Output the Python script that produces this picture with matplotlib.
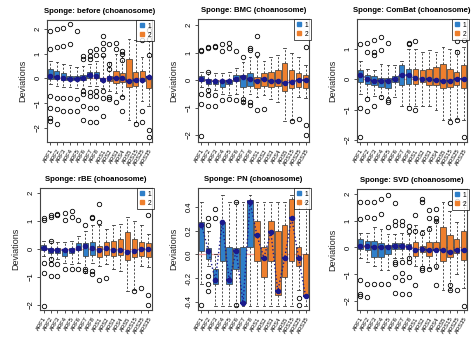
import matplotlib
matplotlib.use("Agg")
import matplotlib.pyplot as plt
from matplotlib.lines import Line2D

plt.rcParams['font.family'] = ['Liberation Sans', 'DejaVu Sans']

# sample names (x axis) and batch of each sample
samples = ['ARF1', 'ARF2', 'ARF3', 'ARF4', 'ARF5', 'ARF6', 'ARF7', 'ARF8',
           'ARS1', 'ARS2', 'ARS3', 'ARS4', 'ARS5', 'ARS15', 'ARS25', 'ARS35']
batch = [1, 1, 1, 1, 1, 1, 1, 1, 2, 2, 2, 2, 2, 2, 2, 2]
batch_colors = {1: '#2f7fc9', 2: '#ee7f2d'}

# ---- before ----
before_med = [0.10, 0.05, 0.00, -0.02, -0.02, 0.02, 0.12, 0.10,
              -0.05, 0.00, 0.03, 0.00, -0.10, -0.08, -0.05, 0.05]
before_q1 = [-0.04, -0.04, -0.05, -0.06, -0.08, -0.05, 0.00, 0.00,
             -0.12, -0.10, -0.20, -0.15, -0.35, -0.30, -0.10, -0.40]
before_q3 = [0.39, 0.30, 0.20, 0.10, 0.10, 0.15, 0.25, 0.25,
             0.03, 0.10, 0.30, 0.20, 0.80, 0.25, 0.30, 0.10]
before_lo = [-0.24, -0.30, -0.35, -0.35, -0.40, -0.40, -0.30, -0.30,
             -0.40, -0.50, -0.60, -0.70, -1.70, -1.75, -0.90, -1.10]
before_hi = [0.70, 0.65, 0.60, 0.55, 0.45, 0.50, 0.60, 0.70,
             0.90, 0.65, 1.00, 1.00, 1.60, 1.55, 0.85, 1.50]
before_out = [[1.90, 1.17, -0.72, -1.19, -1.60, -1.73],
              [2.00, 1.28, -0.78, -1.25, -1.85],
              [2.05, 1.30, -0.80, -1.30],
              [2.20, 1.40, -0.80, -1.30],
              [1.90, -0.85, -1.30],
              [0.90, 0.80, -0.50, -0.65, -1.10, -1.70],
              [1.10, 0.90, 0.80, -0.55, -0.70, -1.20, -1.75],
              [1.20, 0.95, -0.50, -0.70, -1.20, -1.75],
              [1.70, 1.45, 1.20, 0.95, -0.50, -0.80, -1.50],
              [1.40, 0.60, 0.40, -0.75, -0.85],
              [1.45, 1.20, -0.95],
              [1.10, 1.00, 0.75, -0.75, -1.30],
              [],
              [-1.85],
              [1.55, -1.30, -1.75],
              [1.95, 1.60, 0.95, -2.10, -2.35]]

# ---- BMC (rBE gives the same values) ----
bmc_med = [0.05, -0.03, -0.05, -0.05, -0.03, 0.05, 0.12, 0.05,
           -0.03, 0.03, -0.05, -0.02, -0.10, -0.07, 0.00, 0.00]
bmc_q1 = [-0.05, -0.15, -0.15, -0.25, -0.15, -0.05, -0.25, -0.20,
          -0.30, -0.20, -0.25, -0.20, -0.40, -0.30, -0.25, -0.30]
bmc_q3 = [0.15, 0.05, 0.02, 0.00, 0.02, 0.20, 0.20, 0.25,
          0.10, 0.25, 0.30, 0.35, 0.62, 0.35, 0.25, 0.20]
bmc_lo = [-0.25, -0.45, -0.35, -0.50, -0.55, -0.50, -0.85, -0.50,
          -0.60, -0.55, -0.70, -0.80, -1.50, -1.45, -0.60, -0.65]
bmc_hi = [0.30, 0.30, 0.25, 0.25, 0.30, 0.45, 0.65, 0.85,
          0.85, 0.70, 0.85, 0.90, 1.15, 1.00, 0.85, 0.55]
bmc_out = [[1.10, 1.05, -0.50, -0.87, -2.05],
           [1.20, 1.15, 0.28, -0.35, -0.55, -0.95],
           [1.25, 1.20, -0.55, -0.95],
           [1.30, 1.05, -0.72],
           [1.35, 1.15, -0.70],
           [1.05, -0.72],
           [0.85, -0.70, -0.80],
           [1.15, 1.10, -0.80, -0.90],
           [1.60, 0.95, -1.10],
           [-1.05],
           [],
           [],
           [],
           [-1.50],
           [-1.40],
           [1.20, -1.65, -2.00]]

# ---- ComBat ----
combat_med = [0.15, 0.00, -0.05, -0.05, -0.05, 0.02, 0.15, 0.12,
              0.03, 0.02, 0.00, -0.03, -0.05, -0.05, 0.00, 0.02]
combat_q1 = [-0.10, -0.15, -0.20, -0.25, -0.30, -0.10, -0.20, -0.15,
             -0.15, -0.10, -0.20, -0.20, -0.30, -0.25, -0.20, -0.30]
combat_q3 = [0.30, 0.15, 0.10, 0.05, 0.05, 0.10, 0.45, 0.35,
             0.35, 0.30, 0.35, 0.40, 0.50, 0.35, 0.25, 0.45]
combat_lo = [-0.50, -0.60, -0.55, -0.65, -0.60, -0.60, -0.90, -0.90,
             -0.90, -0.90, -0.90, -1.00, -1.35, -1.30, -1.30, -1.35]
combat_hi = [0.60, 0.35, 0.30, 0.50, 0.45, 0.45, 0.60, 1.00,
             1.00, 0.90, 0.95, 0.90, 1.05, 1.00, 0.95, 1.05]
combat_out = [[1.15, -0.95, -1.90],
              [1.20, 0.90, -0.65, -1.05],
              [1.30, 0.90, 0.80, -0.90],
              [1.40, 0.95, -0.60],
              [1.20, -0.70, -0.75],
              [],
              [],
              [1.15, 1.20, -0.95],
              [1.25, -1.00],
              [],
              [],
              [],
              [],
              [-1.40],
              [1.25, 0.90, -1.35],
              [1.30, -1.90]]

# ---- PN ----
pn_med = [0.25, 0.03, -0.22, 0.27, -0.22, 0.03, -0.41, 0.44,
          0.16, -0.03, 0.19, -0.31, -0.03, 0.31, -0.03, -0.35]
pn_q1 = [0.03, -0.04, -0.25, -0.06, -0.25, -0.12, -0.41, 0.06,
         -0.06, -0.19, -0.06, -0.34, -0.19, -0.06, -0.10, -0.35]
pn_q3 = [0.27, 0.05, -0.12, 0.27, 0.06, 0.05, 0.06, 0.46,
         0.28, 0.06, 0.28, 0.20, 0.25, 0.47, 0.06, 0.00]
pn_lo = [-0.25, -0.10, -0.44, -0.44, -0.44, -0.44, -0.44, -0.44,
         -0.44, -0.44, -0.44, -0.44, -0.44, -0.44, -0.30, -0.44]
pn_hi = [0.44, 0.20, 0.00, 0.50, 0.44, 0.44, 0.44, 0.50,
         0.44, 0.44, 0.44, 0.44, 0.44, 0.50, 0.44, 0.44]
pn_out = [[-0.43],
          [0.31, 0.25, -0.18, -0.25, -0.31],
          [0.38, 0.31],
          [],
          [],
          [0.44, -0.43],
          [],
          [],
          [],
          [],
          [],
          [],
          [],
          [],
          [-0.37, -0.43],
          []]

# ---- SVD ----
svd_med = [0.05, 0.05, 0.00, 0.00, 0.02, 0.07, 0.07, 0.03,
           -0.10, -0.05, -0.10, -0.10, -0.10, -0.15, -0.10, -0.10]
svd_q1 = [-0.05, -0.10, -0.35, -0.35, -0.25, -0.05, -0.05, -0.05,
          -0.30, -0.15, -0.30, -0.10, -0.50, -0.35, -0.20, -0.45]
svd_q3 = [0.30, 0.25, 0.25, 0.15, 0.10, 0.15, 0.15, 0.12,
          0.20, 0.05, 0.20, 0.20, 0.75, 0.45, 0.30, 0.60]
svd_lo = [-0.40, -0.55, -0.70, -0.85, -0.85, -0.40, -0.40, -0.45,
          -0.70, -0.70, -0.75, -0.80, -1.60, -1.60, -1.00, -1.50]
svd_hi = [0.55, 0.55, 0.75, 0.70, 0.50, 0.50, 0.55, 0.50,
          0.85, 0.65, 0.80, 1.00, 1.70, 1.35, 0.95, 1.70]
svd_out = [[1.70, 1.05, -1.20, -1.75, -1.80],
           [1.70, 1.15, -1.35, -1.85],
           [1.70, 1.10, -1.35],
           [1.80, 1.25, -1.35],
           [1.95, 0.75, -1.35],
           [1.65, 1.00, 0.85, -0.55, -0.60, -1.10, -1.70],
           [1.00, 0.85, -0.55, -0.95, -1.20, -1.75],
           [0.80, 0.60, -0.40, -0.55, -1.10, -1.75],
           [1.20, 0.60, -1.40],
           [1.80, 1.70, 0.55, -0.75, -0.85],
           [1.40, 1.10, 0.70, -0.80],
           [1.45, 1.10, 1.00, -0.70, -1.40],
           [],
           [1.65, -1.40, -1.60],
           [1.75, -1.60],
           [-2.20]]

W, H = 474, 338
fig = plt.figure(figsize=(W / 100, H / 100), dpi=100)

# title, data, pixel box (left, right, top, bottom), ylim, yticks
panels = [
    ('Sponge: before (choanosome)',
     (before_med, before_q1, before_q3, before_lo, before_hi, before_out),
     (47, 152, 20, 142), (-2.57, 2.36), [-2, -1, 0, 1, 2]),
    ('Sponge: BMC (choanosome)',
     (bmc_med, bmc_q1, bmc_q3, bmc_lo, bmc_hi, bmc_out),
     (198, 309, 19, 142), (-2.25, 2.22), [-2, -1, 0, 1, 2]),
    ('Sponge: ComBat (choanosome)',
     (combat_med, combat_q1, combat_q3, combat_lo, combat_hi, combat_out),
     (357, 467, 19, 142), (-2.07, 1.98), [-2, -1, 0, 1]),
    ('Sponge: rBE (choanosome)',
     (bmc_med, bmc_q1, bmc_q3, bmc_lo, bmc_hi, bmc_out),
     (40, 152, 188, 310), (-2.18, 2.18), [-2, -1, 0, 1, 2]),
    ('Sponge: PN (choanosome)',
     (pn_med, pn_q1, pn_q3, pn_lo, pn_hi, pn_out),
     (198, 309, 188, 310), (-0.47, 0.56), [-0.4, -0.2, 0.0, 0.2, 0.4]),
    ('Sponge: SVD (choanosome)',
     (svd_med, svd_q1, svd_q3, svd_lo, svd_hi, svd_out),
     (357, 467, 189, 310), (-2.34, 2.19), [-2, -1, 0, 1, 2]),
]

pos = list(range(1, len(samples) + 1))

for title, (med, q1, q3, lo, hi, out), (l, r, t, b), ylim, yt in panels:
    ax = fig.add_axes([l / W, 1 - b / H, (r - l) / W, (b - t) / H])
    ax.axhline(0, color='#f4a3a3', linewidth=0.9, zorder=0)
    stats = []
    for i in range(len(samples)):
        stats.append(dict(med=med[i], q1=q1[i], q3=q3[i],
                          whislo=lo[i], whishi=hi[i], fliers=out[i]))
    bp = ax.bxp(stats, positions=pos, widths=0.8, patch_artist=True,
                capwidths=0.4,
                boxprops=dict(linewidth=0.5, edgecolor='#333333'),
                whiskerprops=dict(linestyle=(0, (2.5, 2)), linewidth=0.6,
                                  color='#333333'),
                capprops=dict(linewidth=0.6, color='#333333'),
                medianprops=dict(color='#1a1a8c', linewidth=1.6),
                flierprops=dict(marker='o', markerfacecolor='none',
                                markeredgecolor='black', markersize=3.2,
                                markeredgewidth=0.6))
    for patch, g in zip(bp['boxes'], batch):
        patch.set_facecolor(batch_colors[g])
    ax.plot(pos, med, linestyle=':', color='#1a1a8c', linewidth=1.0,
            marker='o', markersize=3, zorder=5)

    ax.set_xlim(0.5, len(samples) + 0.5)
    ax.set_ylim(*ylim)
    ax.set_yticks(yt)
    if yt[-1] < 1:
        ax.set_yticklabels(['%.1f' % v for v in yt])
    ax.set_xticks(pos)
    ax.set_xticklabels(samples, rotation=60, ha='right',
                       rotation_mode='anchor', fontsize=4.2)
    ax.tick_params(axis='both', length=2.5, width=0.6, color='#333333',
                   labelsize=5.5, pad=1.5)
    ax.tick_params(axis='x', labelsize=4.2, pad=2)
    plt.setp(ax.get_yticklabels(), rotation=90, va='center')
    for s in ax.spines.values():
        s.set_linewidth(0.8)
        s.set_color('#444444')
    ax.set_title(title, fontsize=5.6, fontweight='bold', pad=5)
    ax.set_ylabel('Deviations', fontsize=6.5, color='#222222', labelpad=5)

    handles = [Line2D([], [], linestyle='none', marker='s', markersize=2.5,
                      color=batch_colors[g]) for g in (1, 2)]
    leg = ax.legend(handles, ['1', '2'], loc='upper right',
                    bbox_to_anchor=(1.02, 1.0), fontsize=4.8,
                    frameon=True, fancybox=False, borderpad=0.4,
                    handlelength=0.8, handletextpad=0.5, labelspacing=0.3,
                    borderaxespad=0)
    leg.get_frame().set_edgecolor('black')
    leg.get_frame().set_linewidth(0.6)

fig.savefig('out.png', dpi=100)
